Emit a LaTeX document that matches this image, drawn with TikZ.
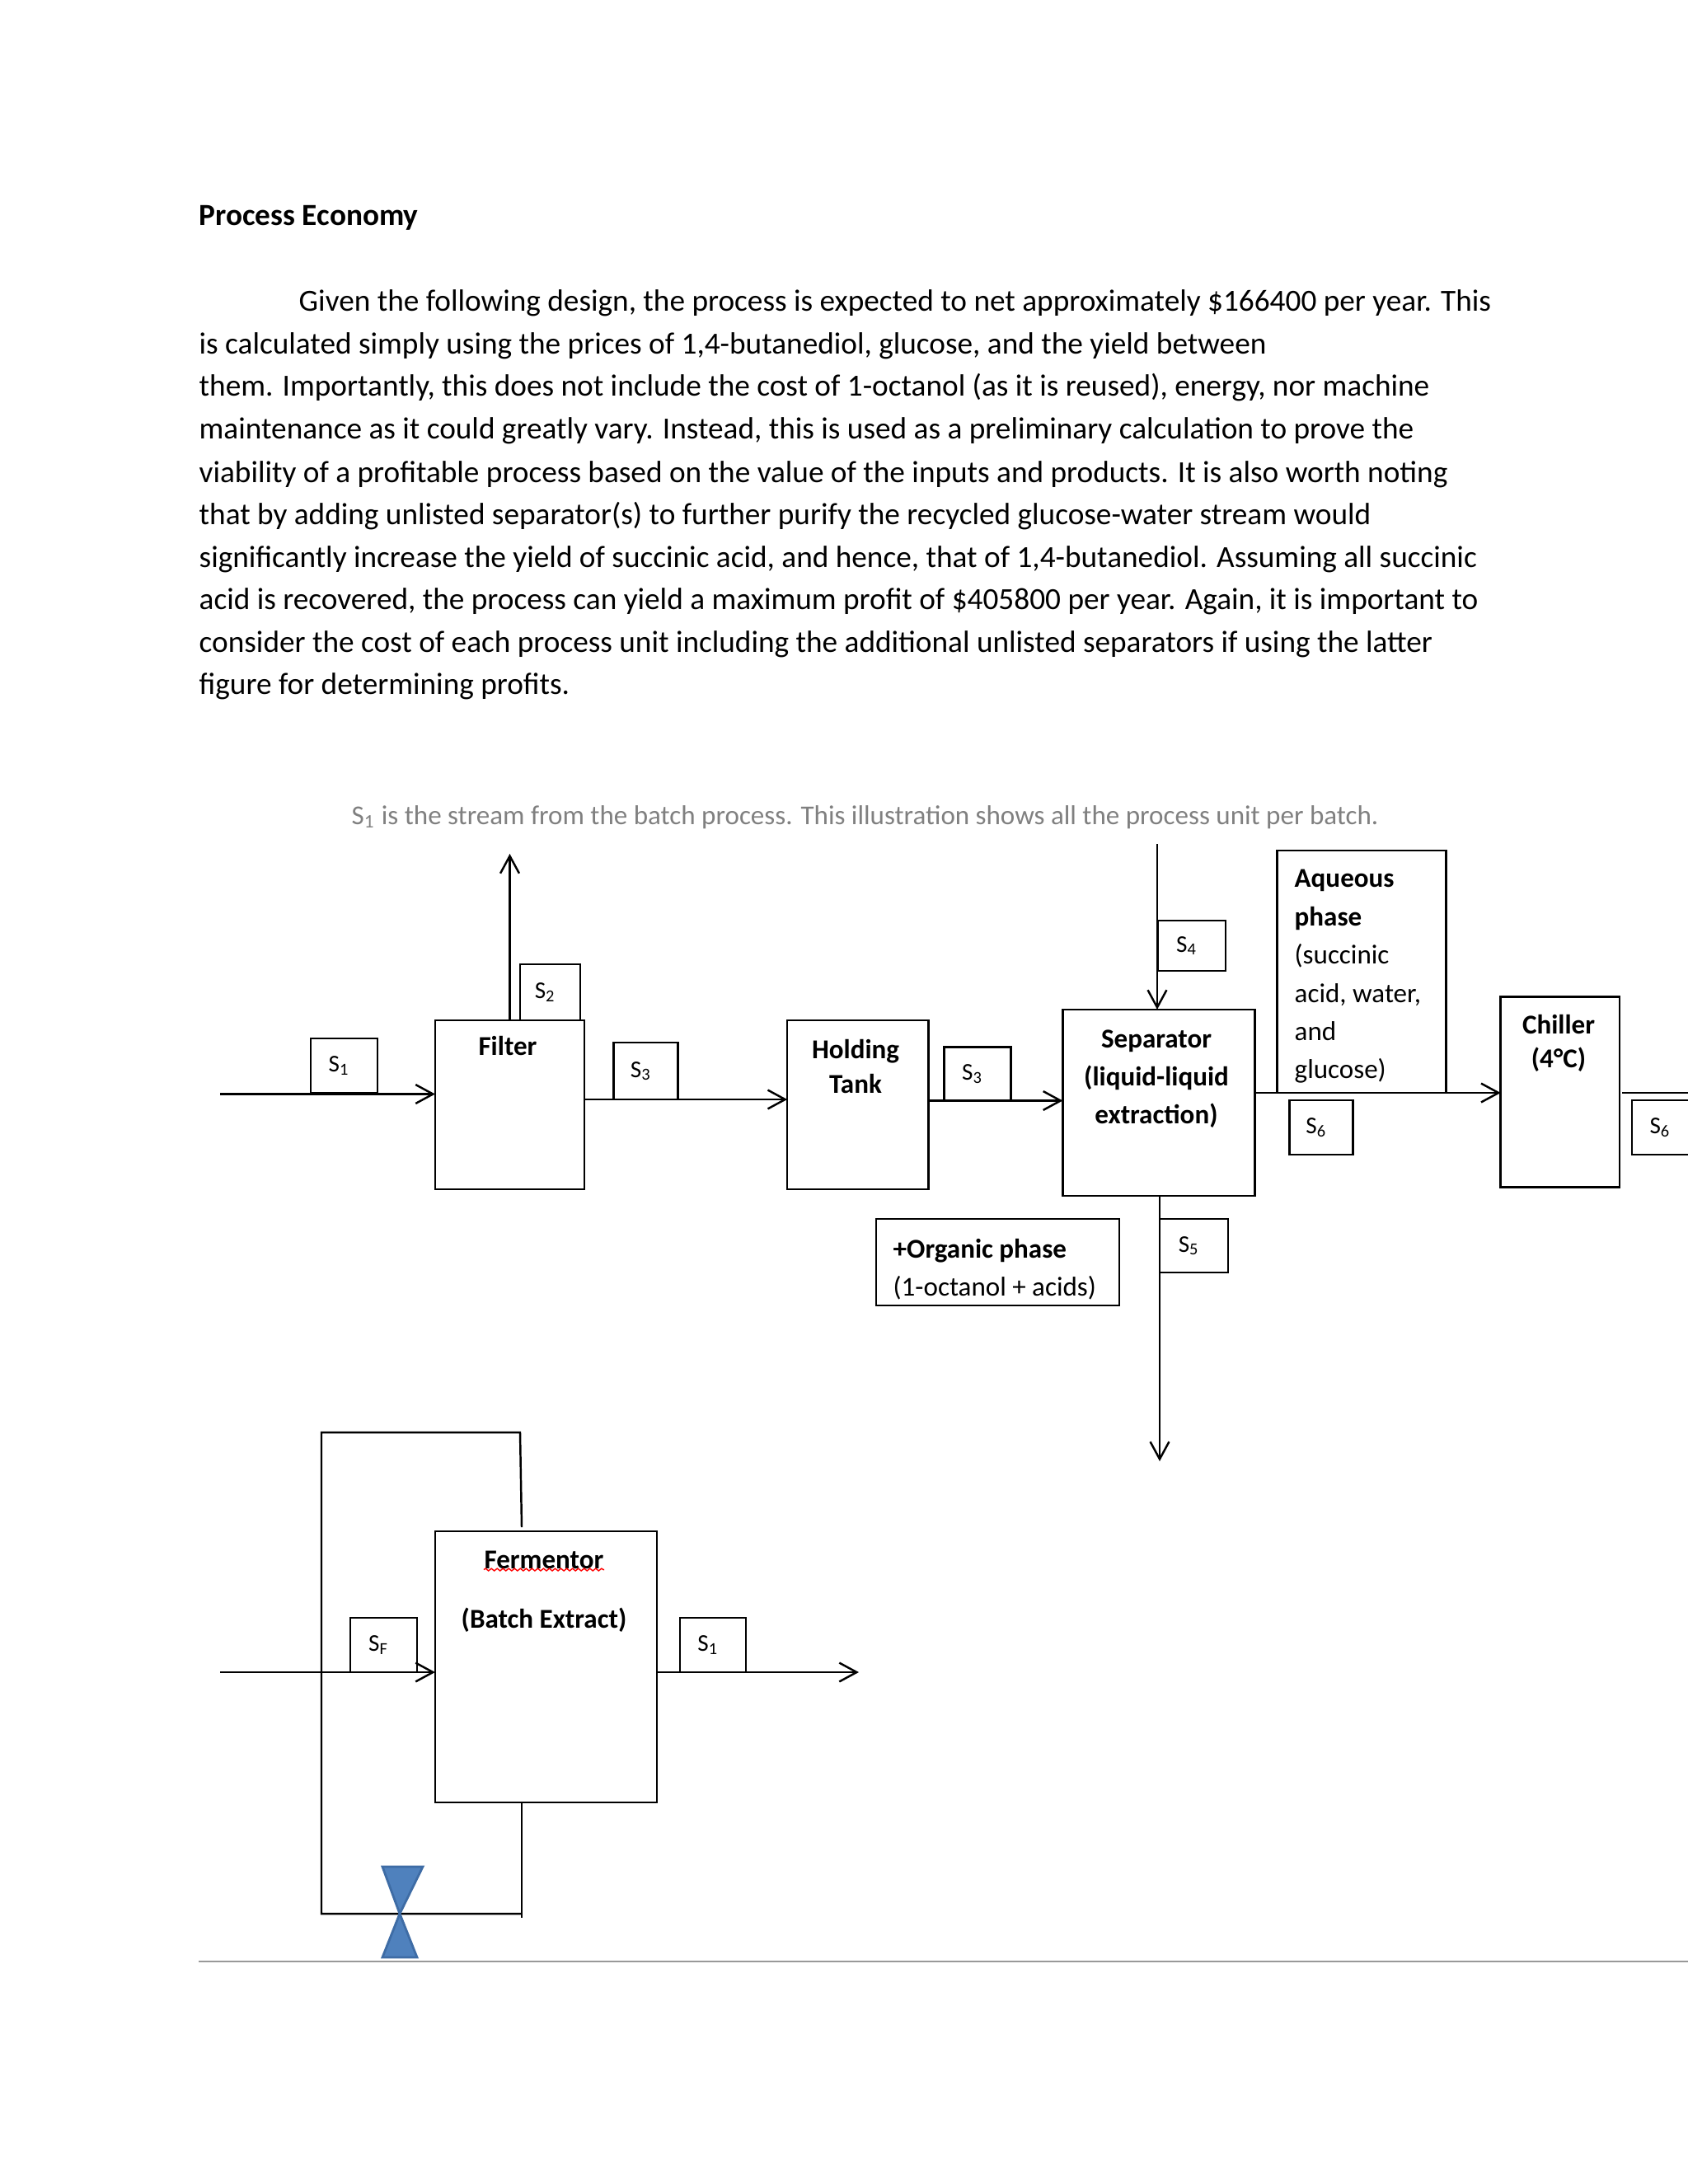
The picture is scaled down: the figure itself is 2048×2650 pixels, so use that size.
\documentclass[tikz,border=0pt]{standalone}
\usepackage{fontspec}
\setmainfont{Carlito}
\usetikzlibrary{arrows.meta, positioning, decorations.pathmorphing}

\definecolor{valveblue}{HTML}{4F81BD}
\definecolor{valveedge}{HTML}{3E6CA5}
\newcommand{\streamtag}[1]{\raisebox{-0.6pt}{S\textsubscript{#1}}\kern 3.4pt}

\begin{document}
\begin{tikzpicture}[
    x=0.01cm, y=-0.01cm,
    node distance=2cm,
    unit/.style={rectangle, draw, line width=0.7pt, inner sep=0pt, outer sep=0pt},
    stream/.style={unit, minimum width=0.81cm, minimum height=0.66cm, font=\fontsize{8.3}{10}\selectfont},
    unitlabel/.style={align=center, inner sep=0pt, font=\fontsize{9.4}{13}\selectfont\bfseries},
    sidelabel/.style={align=left, anchor=west, inner sep=0pt, font=\fontsize{9.4}{13.2}\selectfont},
    bodyline/.style={anchor=base west, inner sep=0pt, font=\fontsize{10.6}{12}\selectfont},
    arrow/.style={-{Straight Barb[length=6pt, width=6.5pt]}, line width=0.7pt},
    flow/.style={line width=0.7pt},
    valvepart/.style={fill=valveblue, draw=valveedge, line width=0.8pt}
]
    \useasboundingbox (0,0) rectangle (2048,2650);

    % page text
    \node[bodyline, font=\fontsize{10.6}{12}\selectfont\bfseries] (heading) at (241,273.5) {Process Economy};
    \node[bodyline] (line1) at (362,377.5) {Given the following design, the process is expected to net approximately \$166400  per year.  This};
    \node[bodyline] (line2) at (241,429.5) {is calculated simply using the prices of 1,4-butanediol, glucose, and the yield between};
    \node[bodyline] (line3) at (241,480.5) {them.  Importantly, this does not include the cost of 1-octanol (as it is reused), energy, nor machine};
    \node[bodyline] (line4) at (241,532.5) {maintenance as it could greatly vary.  Instead, this is used as a preliminary calculation to prove the};
    \node[bodyline] (line5) at (241,585) {viability of a profitable process based on the value of the inputs and products.  It is also worth noting};
    \node[bodyline] (line6) at (241,636) {that by adding unlisted separator(s) to further purify the recycled glucose-water stream would};
    \node[bodyline] (line7) at (241,688) {significantly increase the yield of succinic acid, and hence, that of 1,4-butanediol.  Assuming all succinic};
    \node[bodyline] (line8) at (241,739.5) {acid is recovered, the process can yield a maximum profit of \$405800  per year.  Again, it is important to};
    \node[bodyline] (line9) at (241,791) {consider the cost of each process unit including the additional unlisted separators if using the latter};
    \node[bodyline] (line10) at (241,842) {figure for determining profits.};

    \node[anchor=west, inner sep=0pt, text=black!50, font=\fontsize{9.4}{11}\selectfont] (caption) at (426,991.5) {S\textsubscript{1} is the stream from the batch process. This illustration shows all the process unit per batch.};

    % process units
    \node[unit, minimum width=1.81cm, minimum height=2.05cm] (filter) at (618.5,1340.5) {};
    \node[unit, minimum width=1.71cm, minimum height=2.05cm, right of=filter, xshift=2.22cm] (holding) {};
    \node[unit, minimum width=2.33cm, minimum height=2.26cm, right of=holding, xshift=1.65cm, yshift=.025cm] (separator) {};
    \node[unit, minimum width=1.44cm, minimum height=2.31cm, right of=separator, xshift=2.865cm, yshift=.13cm] (chiller) {};
    \node[unit, minimum width=2.05cm, minimum height=2.94cm, right of=separator, xshift=.46cm, yshift=1.59cm] (aqueous) {};
    \node[unit, minimum width=2.95cm, minimum height=1.05cm, below of=separator, xshift=-1.955cm, yshift=.065cm] (organic) {};
    \node[unit, minimum width=2.69cm, minimum height=3.29cm] (fermentor) at (662.5,2022.5) {};

    % unit names
    \node[unitlabel] (filtername) at (616,1269) {Filter};
    \node[unitlabel] (holdingname) at (1038,1294) {Holding\\[-1pt]Tank};
    \node[unitlabel] (separatorname) at (1403,1309) {Separator\\(liquid-liquid\\extraction)};
    \node[unitlabel] (chillername) at (1891,1266) {Chiller\\[-1.5pt](4°C)};
    \node[sidelabel] (aqueousname) at (1570,1185) {\textbf{Aqueous}\\\textbf{phase}\\(succinic\\acid, water,\\and\\glucose)};
    \node[sidelabel] (organicname) at (1083,1540) {\textbf{+Organic phase}\\(1-octanol + acids)};
    \node[unitlabel] (fermentorname) at (660,1893) {Fermentor};
    \node[unitlabel] (batchname) at (660,1966) {(Batch Extract)};
    \draw[red, line width=0.4pt, decorate, decoration={snake, amplitude=0.4pt, segment length=2pt}] (fermentorname.south west) -- (fermentorname.south east);

    % stream tags
    \node[stream, left of=filter, xshift=-.01cm, yshift=.475cm] (sone) {\streamtag{1}};
    \node[stream, minimum width=.73cm, minimum height=.68cm, above of=filter, xshift=.49cm, yshift=-.635cm] (stwo) {\streamtag{2}};
    \node[stream, minimum width=.78cm, minimum height=.69cm, right of=filter, xshift=-.35cm, yshift=.41cm] (sthree) {\streamtag{3}};
    \node[stream, minimum height=.65cm, right of=holding, xshift=-.55cm, yshift=.375cm] (sthreeb) {\streamtag{3}};
    \node[stream, minimum width=.82cm, minimum height=.61cm, above of=separator, xshift=.4cm, yshift=-.095cm] (sfour) {\streamtag{4}};
    \node[stream, minimum width=.83cm, minimum height=.65cm, below of=separator, xshift=.425cm, yshift=.265cm] (sfive) {\streamtag{5}};
    \node[stream, minimum width=.77cm, right of=separator, xshift=-.03cm, yshift=-.3cm] (ssix) {\streamtag{6}};
    \node[stream, right of=chiller, xshift=-.725cm, yshift=-.43cm] (ssixb) {\streamtag{6}};
    \node[stream, left of=fermentor, xshift=.03cm, yshift=.265cm] (sfeed) {\streamtag{F}};
    \node[stream, minimum width=.8cm, right of=fermentor, xshift=.025cm, yshift=.265cm] (soneb) {\streamtag{1}};

    % free ends
    \coordinate (feedin) at (267,1327.5);
    \coordinate (ventout) at (618.5,1036);
    \coordinate (solventin) at (1404,1024);
    \coordinate (organicout) at (1407,1773);
    \coordinate (chillerout) at (1968,1326);
    \coordinate (pageedge) at (2060,1326);
    \coordinate (batchin) at (267,2029);
    \coordinate (batchout) at (1042,2029);
    \coordinate (looptl) at (390,1738);
    \coordinate (looptr) at (631,1738);
    \coordinate (loopend) at (633,1853);
    \coordinate (loopbl) at (390,2322);
    \coordinate (loopbr) at (633,2322);
    \coordinate (loopstub) at (633,2327);
    \coordinate (valve) at (485,2322);

    % connectors
    \draw[arrow] (feedin) -- (feedin -| filter.west);
    \draw[arrow] (filter.north) -- (ventout);
    \draw[arrow] (filter.east |- sthree.south) -- (holding.west |- sthree.south);
    \draw[arrow] (holding.east |- sthreeb.south) -- (separator.west |- sthreeb.south);
    \draw[arrow] (solventin) -- (solventin |- separator.north);
    \draw[arrow] (organicout |- separator.south) -- (organicout);
    \draw[arrow] (separator.east |- aqueous.south) -- (chiller.west |- aqueous.south);
    \draw[flow] (chillerout) -- (pageedge);
    \draw[arrow] (batchin) -- (batchin -| fermentor.west);
    \draw[arrow] (fermentor.east |- batchout) -- (batchout);
    \draw[flow] (loopend) -- (looptr) -- (looptl) -- (loopbl) -- (loopbr);
    \draw[flow] (loopbr |- fermentor.south) -- (loopstub);

    % valve
    \draw[valvepart] (valve) -- (464,2265) -- (513,2265) -- cycle;
    \draw[valvepart] (valve) -- (464,2375) -- (506,2375) -- cycle;

    % page rule
    \coordinate (ruleleft) at (241,2380);
    \coordinate (ruleright) at (2048,2380);
    \draw[black!40, line width=0.7pt] (ruleleft) -- (ruleright);
\end{tikzpicture}
\end{document}
